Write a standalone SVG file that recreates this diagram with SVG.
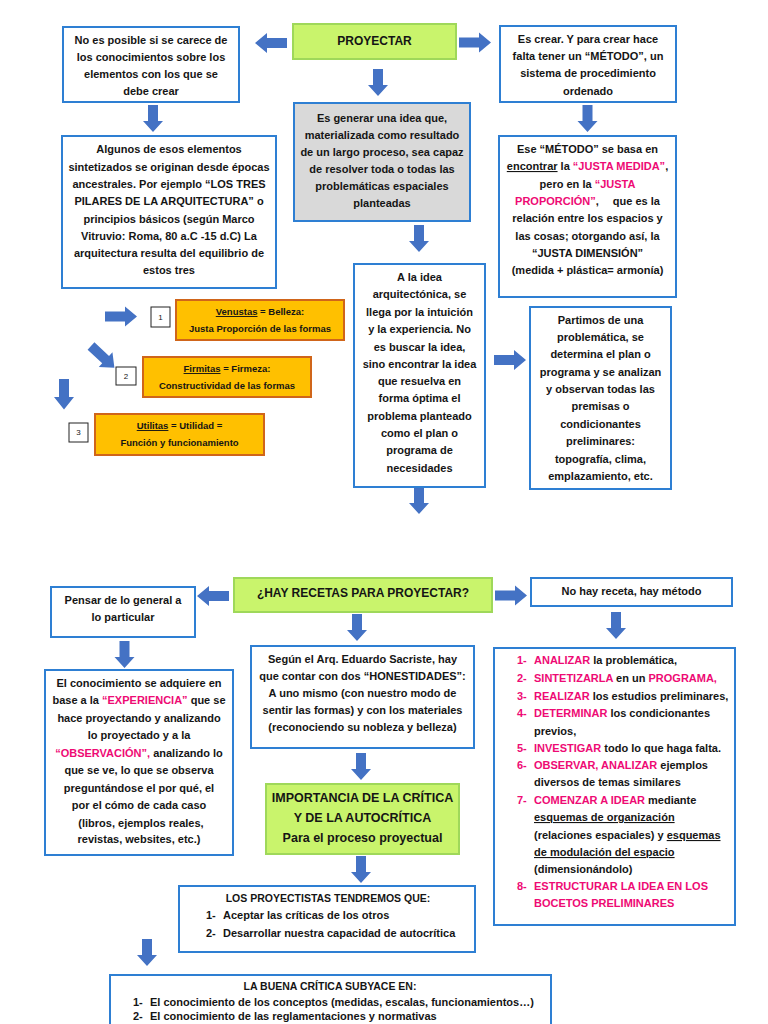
<svg xmlns="http://www.w3.org/2000/svg" width="768" height="1024" viewBox="0 0 768 1024">
<style>
.bx{fill:#fff;stroke:#2e7fd3;stroke-width:2}
.gr{fill:#d9d9d9;stroke:#2e7fd3;stroke-width:2}
.gn{fill:#c9f46c;stroke:#9fd85a;stroke-width:2}
.or{fill:#ffc000;stroke:#d0651a;stroke-width:2}
.nb{fill:#fff;stroke:#222;stroke-width:1}
.ar{fill:#4472c4}
text{font-family:"Liberation Sans",Arial,sans-serif;font-weight:bold;fill:#151515}
.t{font-size:11px;text-anchor:middle}
.s{font-size:11px;text-anchor:start}
.o{font-size:9.5px;text-anchor:middle}
.h{font-size:12px;text-anchor:middle}
.hi{font-size:12.5px;text-anchor:middle}
.n{font-size:8px;font-weight:normal;text-anchor:middle}
.p{fill:#ee0a74}
.u{text-decoration:underline}
</style>
<defs>
<path id="ad" d="M-5,0H5V16H10L0,27L-10,16H-5Z"/>
<path id="arr" d="M0,-5H20V-10L32,0L20,10V5H0Z"/>
<path id="al" d="M0,0L12,-10V-5H32V5H12V10Z"/>
</defs>
<rect width="768" height="1024" fill="#fff"/>

<g id="connectors" class="ar">
<use href="#al" transform="translate(255,43)"/>
<use href="#arr" transform="translate(459,42.5)"/>
<use href="#ad" transform="translate(378,69)"/>
<use href="#ad" transform="translate(153,105)"/>
<use href="#ad" transform="translate(587.5,105)"/>
<use href="#ad" transform="translate(419,225)"/>
<use href="#arr" transform="translate(105,316.5)"/>
<use href="#arr" transform="translate(91,346) rotate(43)"/>
<use href="#ad" transform="translate(64,379) scale(1,1.13)"/>
<use href="#arr" transform="translate(494,360)"/>
<use href="#ad" transform="translate(419,487)"/>
<use href="#al" transform="translate(197,596)"/>
<use href="#arr" transform="translate(495,595.5)"/>
<use href="#ad" transform="translate(357,614)"/>
<use href="#ad" transform="translate(124.5,641)"/>
<use href="#ad" transform="translate(616,612)"/>
<use href="#ad" transform="translate(361,753)"/>
<use href="#ad" transform="translate(361,856)"/>
<use href="#ad" transform="translate(147,939)"/>
</g>

<g id="proyectar">
<rect class="gn" x="293" y="24" width="163" height="35"/>
<text class="h" x="374.5" y="45">PROYECTAR</text>
</g>

<g id="no-es-posible">
<rect class="bx" x="63" y="27" width="176" height="75"/>
<text class="t" x="151" y="44">No es posible si se carece de</text>
<text class="t" x="151" y="61">los conocimientos sobre los</text>
<text class="t" x="151" y="78">elementos con los que se</text>
<text class="t" x="151" y="95">debe crear</text>
</g>

<g id="es-crear">
<rect class="bx" x="500" y="26" width="176" height="76"/>
<text class="t" x="588" y="43">Es crear. Y para crear hace</text>
<text class="t" x="588" y="60">falta tener un “MÉTODO”, un</text>
<text class="t" x="588" y="77">sistema de procedimiento</text>
<text class="t" x="588" y="95">ordenado</text>
</g>

<g id="es-generar">
<rect class="gr" x="294" y="103" width="176" height="118"/>
<text class="t" x="382" y="122">Es generar una idea que,</text>
<text class="t" x="382" y="139">materializada como resultado</text>
<text class="t" x="382" y="156">de un largo proceso, sea capaz</text>
<text class="t" x="382" y="173">de resolver toda o todas las</text>
<text class="t" x="382" y="190">problemáticas espaciales</text>
<text class="t" x="382" y="207">planteadas</text>
</g>

<g id="algunos">
<rect class="bx" x="62" y="136" width="214" height="152"/>
<text class="t" x="169" y="153">Algunos de esos elementos</text>
<text class="t" x="169" y="171">sintetizados se originan desde épocas</text>
<text class="t" x="169" y="188">ancestrales. Por ejemplo “LOS TRES</text>
<text class="t" x="169" y="205">PILARES DE LA ARQUITECTURA” o</text>
<text class="t" x="169" y="223">principios básicos (según Marco</text>
<text class="t" x="169" y="240">Vitruvio: Roma, 80 a.C -15 d.C) La</text>
<text class="t" x="169" y="257">arquitectura resulta del equilibrio de</text>
<text class="t" x="169" y="274">estos tres</text>
</g>

<g id="metodo">
<rect class="bx" x="499" y="136" width="177" height="161"/>
<text class="t" x="587.5" y="153">Ese “MÉTODO” se basa en</text>
<text class="t" x="587.5" y="170"><tspan class="u">encontrar</tspan> la <tspan class="p">“JUSTA MEDIDA”</tspan>,</text>
<text class="t" x="587.5" y="188">pero en la <tspan class="p">“JUSTA</tspan></text>
<text class="t" x="587.5" y="205"><tspan class="p">PROPORCIÓN”</tspan>,<tspan dx="14">que es la</tspan></text>
<text class="t" x="587.5" y="222">relación entre los espacios y</text>
<text class="t" x="587.5" y="240">las cosas; otorgando así, la</text>
<text class="t" x="587.5" y="257">“JUSTA DIMENSIÓN”</text>
<text class="t" x="587.5" y="274">(medida + plástica= armonía)</text>
</g>

<g id="a-la-idea">
<rect class="bx" x="354" y="264" width="131" height="223"/>
<text class="t" x="419.5" y="281">A la idea</text>
<text class="t" x="419.5" y="298">arquitectónica, se</text>
<text class="t" x="419.5" y="316">llega por la intuición</text>
<text class="t" x="419.5" y="333">y la experiencia. No</text>
<text class="t" x="419.5" y="351">es buscar la idea,</text>
<text class="t" x="419.5" y="368">sino encontrar la idea</text>
<text class="t" x="419.5" y="385">que resuelva en</text>
<text class="t" x="419.5" y="402">forma óptima el</text>
<text class="t" x="419.5" y="420">problema planteado</text>
<text class="t" x="419.5" y="437">como el plan o</text>
<text class="t" x="419.5" y="454">programa de</text>
<text class="t" x="419.5" y="472">necesidades</text>
</g>

<g id="partimos">
<rect class="bx" x="530" y="307" width="141" height="182"/>
<text class="t" x="600.5" y="324">Partimos de una</text>
<text class="t" x="600.5" y="341">problemática, se</text>
<text class="t" x="600.5" y="358">determina el plan o</text>
<text class="t" x="600.5" y="376">programa y se analizan</text>
<text class="t" x="600.5" y="393">y observan todas las</text>
<text class="t" x="600.5" y="410">premisas o</text>
<text class="t" x="600.5" y="428">condicionantes</text>
<text class="t" x="600.5" y="445">preliminares:</text>
<text class="t" x="600.5" y="463">topografía, clima,</text>
<text class="t" x="600.5" y="480">emplazamiento, etc.</text>
</g>

<g id="num1">
<rect class="nb" x="151" y="307" width="19" height="20"/>
<text class="n" x="160.5" y="320">1</text>
</g>
<g id="venustas">
<rect class="or" x="176" y="300" width="168" height="40"/>
<text class="o" x="260" y="315"><tspan class="u">Venustas</tspan> = Belleza:</text>
<text class="o" x="260" y="332">Justa Proporción de las formas</text>
</g>

<g id="num2">
<rect class="nb" x="116" y="367" width="20" height="18"/>
<text class="n" x="126" y="379">2</text>
</g>
<g id="firmitas">
<rect class="or" x="143" y="357" width="168" height="40"/>
<text class="o" x="227" y="372"><tspan class="u">Firmitas</tspan> = Firmeza:</text>
<text class="o" x="227" y="389">Constructividad de las formas</text>
</g>

<g id="num3">
<rect class="nb" x="69" y="423" width="19" height="19"/>
<text class="n" x="78.5" y="435">3</text>
</g>
<g id="utilitas">
<rect class="or" x="95" y="414" width="169" height="41"/>
<text class="o" x="179.5" y="429"><tspan class="u">Utilitas</tspan> = Utilidad =</text>
<text class="o" x="179.5" y="446">Función y funcionamiento</text>
</g>

<g id="hay-recetas">
<rect class="gn" x="234" y="578" width="258" height="34"/>
<text class="h" x="363" y="597">¿HAY RECETAS PARA PROYECTAR?</text>
</g>

<g id="pensar">
<rect class="bx" x="51" y="587" width="144" height="50"/>
<text class="t" x="123" y="604">Pensar de lo general a</text>
<text class="t" x="123" y="621">lo particular</text>
</g>

<g id="no-hay-receta">
<rect class="bx" x="531" y="578" width="201" height="28"/>
<text class="t" x="631.5" y="595">No hay receta, hay método</text>
</g>

<g id="conocimiento">
<rect class="bx" x="45" y="670" width="188" height="185"/>
<text class="t" x="139" y="687">El conocimiento se adquiere en</text>
<text class="t" x="139" y="704">base a la <tspan class="p">“EXPERIENCIA”</tspan> que se</text>
<text class="t" x="139" y="722">hace proyectando y analizando</text>
<text class="t" x="139" y="739">lo proyectado y a la</text>
<text class="t" x="139" y="757"><tspan class="p">“OBSERVACIÓN”,</tspan> analizando lo</text>
<text class="t" x="139" y="774">que se ve, lo que se observa</text>
<text class="t" x="139" y="792">preguntándose el por qué, el</text>
<text class="t" x="139" y="809">por el cómo de cada caso</text>
<text class="t" x="141" y="827">(libros, ejemplos reales,</text>
<text class="t" x="139" y="843">revistas, websites, etc.)</text>
</g>

<g id="segun">
<rect class="bx" x="251" y="646" width="223" height="102"/>
<text class="t" x="362.5" y="663">Según  el Arq. Eduardo Sacriste, hay</text>
<text class="t" x="362.5" y="680">que contar con dos “HONESTIDADES”:</text>
<text class="t" x="362.5" y="697">A uno mismo (con nuestro modo de</text>
<text class="t" x="362.5" y="714">sentir las formas) y con los materiales</text>
<text class="t" x="362.5" y="731">(reconociendo su nobleza y belleza)</text>
</g>

<g id="metodo-lista">
<rect class="bx" x="494" y="648" width="241" height="277"/>
<text class="s" x="517" y="664"><tspan class="p">1-</tspan></text>
<text class="s" x="534" y="664"><tspan class="p">ANALIZAR</tspan> la problemática,</text>
<text class="s" x="517" y="682"><tspan class="p">2-</tspan></text>
<text class="s" x="534" y="682"><tspan class="p">SINTETIZARLA</tspan> en un <tspan class="p">PROGRAMA,</tspan></text>
<text class="s" x="517" y="700"><tspan class="p">3-</tspan></text>
<text class="s" x="534" y="700"><tspan class="p">REALIZAR</tspan> los estudios preliminares,</text>
<text class="s" x="517" y="717"><tspan class="p">4-</tspan></text>
<text class="s" x="534" y="717"><tspan class="p">DETERMINAR</tspan> los condicionantes</text>
<text class="s" x="534" y="735">previos,</text>
<text class="s" x="517" y="752"><tspan class="p">5-</tspan></text>
<text class="s" x="534" y="752"><tspan class="p">INVESTIGAR</tspan> todo lo que haga falta.</text>
<text class="s" x="517" y="769"><tspan class="p">6-</tspan></text>
<text class="s" x="534" y="769"><tspan class="p">OBSERVAR, ANALIZAR</tspan> ejemplos</text>
<text class="s" x="534" y="786">diversos de temas similares</text>
<text class="s" x="517" y="804"><tspan class="p">7-</tspan></text>
<text class="s" x="534" y="804"><tspan class="p">COMENZAR A IDEAR</tspan> mediante</text>
<text class="s" x="534" y="821"><tspan class="u">esquemas de organización</tspan></text>
<text class="s" x="534" y="839">(relaciones espaciales) y <tspan class="u">esquemas</tspan></text>
<text class="s" x="534" y="856"><tspan class="u">de modulación del espacio</tspan></text>
<text class="s" x="534" y="873">(dimensionándolo)</text>
<text class="s" x="517" y="890"><tspan class="p">8-</tspan></text>
<text class="s" x="534" y="890"><tspan class="p">ESTRUCTURAR LA IDEA EN LOS</tspan></text>
<text class="s" x="534" y="907"><tspan class="p">BOCETOS PRELIMINARES</tspan></text>
</g>

<g id="importancia">
<rect class="gn" x="266" y="784" width="193" height="70"/>
<text class="hi" x="362.5" y="802">IMPORTANCIA DE LA CRÍTICA</text>
<text class="hi" x="362.5" y="822">Y DE LA AUTOCRÍTICA</text>
<text class="hi" x="362.5" y="842">Para el proceso proyectual</text>
</g>

<g id="proyectistas">
<rect class="bx" x="179" y="886" width="296" height="66"/>
<text class="t" x="328" y="902" style="font-size:10.5px">LOS PROYECTISTAS TENDREMOS QUE:</text>
<text class="s" x="206" y="919">1-</text>
<text class="s" x="223" y="919">Aceptar las críticas de los otros</text>
<text class="s" x="206" y="937">2-</text>
<text class="s" x="223" y="937">Desarrollar nuestra capacidad de autocrítica</text>
</g>

<g id="buena-critica">
<rect class="bx" x="110" y="975" width="441" height="60"/>
<text class="t" x="330" y="990" style="font-size:10.5px">LA BUENA CRÍTICA SUBYACE EN:</text>
<text class="s" x="133" y="1006">1-</text>
<text class="s" x="150" y="1006">El conocimiento de los conceptos (medidas, escalas, funcionamientos…)</text>
<text class="s" x="133" y="1020">2-</text>
<text class="s" x="150" y="1020">El conocimiento de las reglamentaciones y normativas</text>
</g>
</svg>
